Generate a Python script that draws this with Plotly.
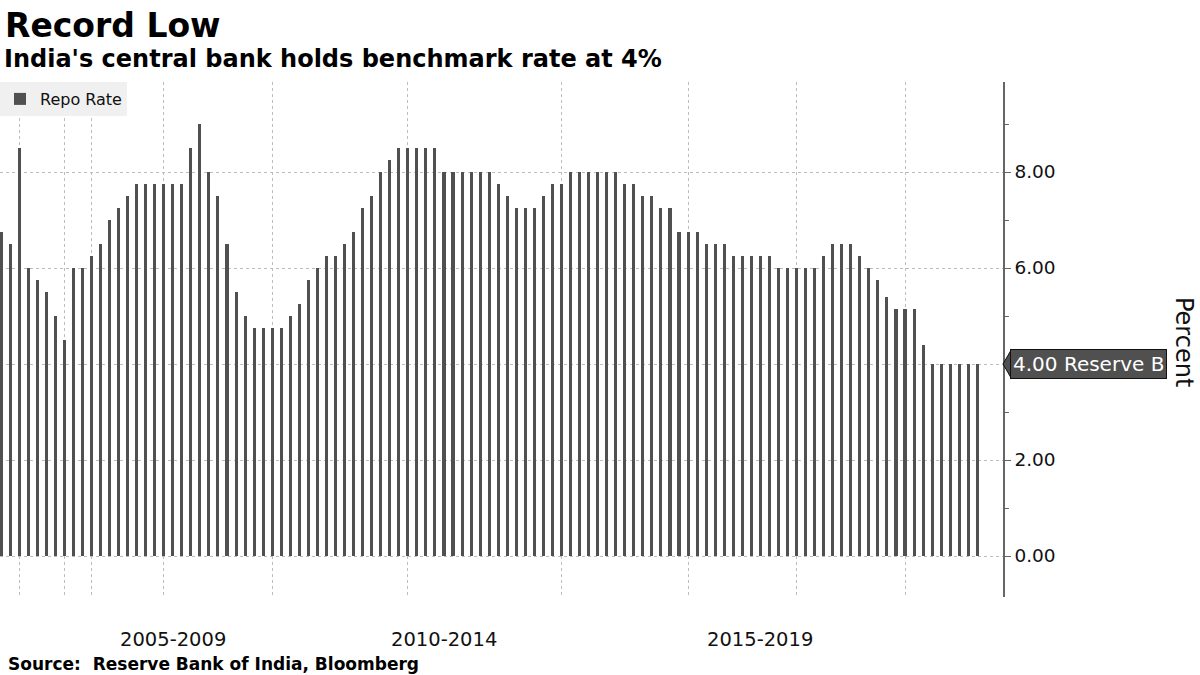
import plotly.graph_objects as go

# RBI repo rate at each policy decision (percent)
repo_rate = [6.75, 6.5, 8.5, 6.0, 5.75, 5.5, 5.0, 4.5, 6.0, 6.0,
             6.25, 6.5, 7.0, 7.25, 7.5, 7.75, 7.75, 7.75, 7.75, 7.75,
             7.75, 8.5, 9.0, 8.0, 7.5, 6.5, 5.5, 5.0, 4.75, 4.75,
             4.75, 4.75, 5.0, 5.25, 5.75, 6.0, 6.25, 6.25, 6.5, 6.75,
             7.25, 7.5, 8.0, 8.25, 8.5, 8.5, 8.5, 8.5, 8.5, 8.0,
             8.0, 8.0, 8.0, 8.0, 8.0, 7.75, 7.5, 7.25, 7.25, 7.25,
             7.5, 7.75, 7.75, 8.0, 8.0, 8.0, 8.0, 8.0, 8.0, 7.75,
             7.75, 7.5, 7.5, 7.25, 7.25, 6.75, 6.75, 6.75, 6.5, 6.5,
             6.5, 6.25, 6.25, 6.25, 6.25, 6.25, 6.0, 6.0, 6.0, 6.0,
             6.0, 6.25, 6.5, 6.5, 6.5, 6.25, 6.0, 5.75, 5.4, 5.15,
             5.15, 5.15, 4.4, 4.0, 4.0, 4.0, 4.0, 4.0, 4.0]
meeting = list(range(len(repo_rate)))

# meeting index where each new year starts (vertical grid)
year_breaks = [2, 7, 10, 18, 30, 45, 62, 76, 88, 100]
period_labels = ["2005-2009", "2010-2014", "2015-2019"]
period_pos = [19, 49, 84]

y_ticks = [0, 2, 4, 6, 8]

FONT = "DejaVu Sans"
BAR = "#505050"
GRID = "#bdbdbd"

last = repo_rate[-1]
# the last-value tag sits over its own tick label
y_text = ["" if v == last else f"{v:.2f}" for v in y_ticks]

fig = go.Figure()
fig.add_trace(go.Bar(x=meeting, y=repo_rate, name="Repo Rate",
                     marker_color=BAR, marker_line_width=0, width=0.34))

fig.update_layout(
    width=1200, height=675,
    margin=dict(l=0, r=197, t=82, b=78),
    paper_bgcolor="white", plot_bgcolor="white",
    font=dict(family=FONT, color="#111"),
    showlegend=True,
    legend=dict(x=0, y=1, xanchor="left", yanchor="top",
                bgcolor="#f0f0f0", font=dict(size=16, family=FONT),
                itemwidth=30, itemclick=False),
    bargap=0,
)

fig.update_xaxes(range=[-0.11, 110.84], tickvals=year_breaks,
                 showticklabels=False, ticks="", showgrid=True,
                 gridcolor=GRID, griddash="dot", gridwidth=1,
                 zeroline=False, showline=False)

fig.update_yaxes(side="right", range=[-0.854, 9.875],
                 tickvals=y_ticks, ticktext=y_text,
                 ticks="outside", ticklen=6,
                 tickcolor="#666", showline=True, linecolor="#666",
                 linewidth=1.5, tickfont=dict(size=18.5, family=FONT, color="#111"),
                 showgrid=True, gridcolor=GRID, griddash="dot", zeroline=False,
                 minor=dict(dtick=1, ticks="outside", ticklen=4,
                            tickcolor="#666", showgrid=False))

for lab, pos in zip(period_labels, period_pos):
    fig.add_annotation(x=pos, xref="x", y=-0.0823, yref="paper", text=lab,
                       showarrow=False, yanchor="middle",
                       font=dict(size=19.5, family=FONT, color="#111"))

# last value tag on the axis
fig.add_annotation(x=1.0, xref="paper", y=last, yref="y",
                   text=f"{last:.2f} Reserve B", showarrow=False,
                   xanchor="left", yanchor="middle", xshift=7,
                   bgcolor=BAR, bordercolor="#111", borderwidth=1, borderpad=2,
                   font=dict(size=20, family=FONT, color="white"))
fig.add_shape(type="path", xref="paper", yref="y", layer="above",
              path=f"M 1.0,{last} L 1.0075,{last + 0.27} L 1.0075,{last - 0.27} Z",
              fillcolor=BAR, line=dict(color="#111", width=1))

fig.add_annotation(x=1.1965, xref="paper", y=0.495, yref="paper", text="Percent",
                   textangle=90, showarrow=False,
                   font=dict(size=24, family=FONT, color="#111"))

fig.add_annotation(x=0.003, xref="paper", y=1.1095, yref="paper", text="<b>Record Low</b>",
                   showarrow=False, xanchor="left", yanchor="middle",
                   font=dict(size=33, family=FONT, color="#000"))
fig.add_annotation(x=0.002, xref="paper", y=1.0452, yref="paper",
                   text="<b>India's central bank holds benchmark rate at 4%</b>",
                   showarrow=False, xanchor="left", yanchor="middle",
                   font=dict(size=24, family=FONT, color="#000"))
fig.add_annotation(x=0.006, xref="paper", y=-0.130, yref="paper",
                   text="<b>Source:  Reserve Bank of India, Bloomberg</b>",
                   showarrow=False, xanchor="left", yanchor="middle",
                   font=dict(size=17, family=FONT, color="#000"))

# page body has a default 8px margin; drop it so the figure fills the window
fig.write_html("out.html", config={"displayModeBar": False},
               post_script="document.body.style.margin='0';")
